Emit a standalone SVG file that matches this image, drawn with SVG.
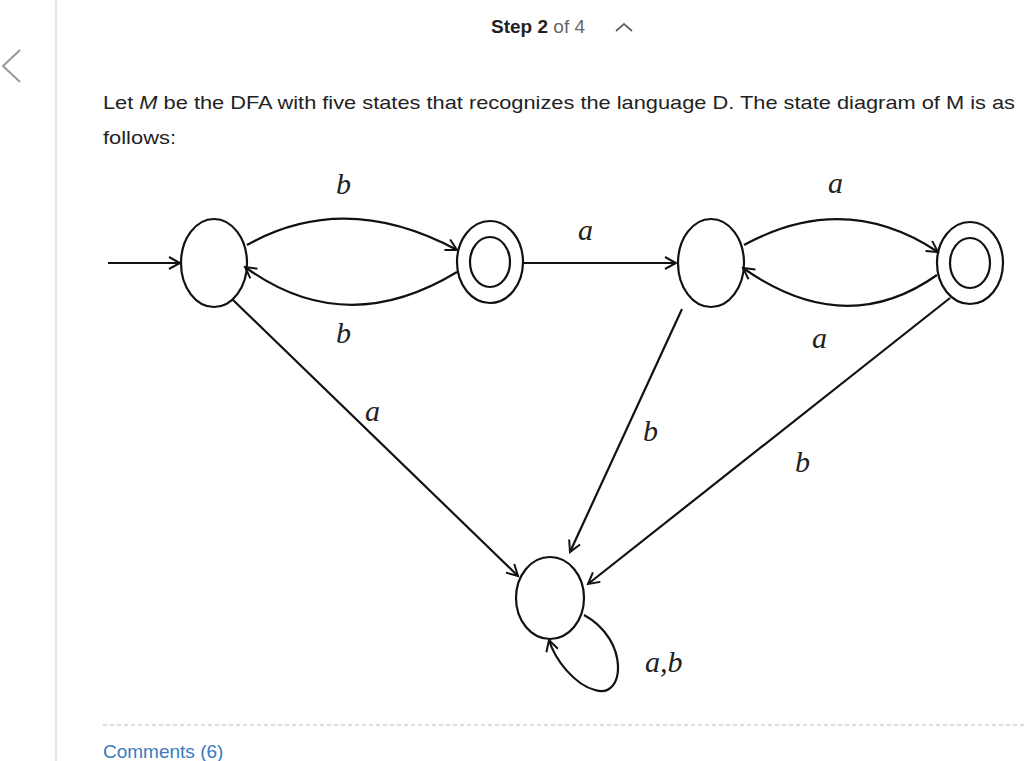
<svg xmlns="http://www.w3.org/2000/svg" width="1024" height="761" viewBox="0 0 1024 761">
<style>
.s{fill:none;stroke:#111;stroke-width:2.2}
.l{font-family:"Liberation Serif",serif;font-style:italic;font-size:30px;fill:#222}
.t{font-family:"Liberation Sans",Arial,sans-serif;font-size:19px;fill:#222}
</style>
<defs><marker id="a" markerWidth="14" markerHeight="14" refX="12" refY="7" orient="auto" markerUnits="userSpaceOnUse"><path d="M1,1 L12,7 L1,13" fill="none" stroke="#111" stroke-width="2"/></marker></defs>
<rect width="1024" height="761" fill="#fff"/>
<line x1="56" y1="0" x2="56" y2="761" stroke="#ddd" stroke-width="1.5"/>
<path d="M20,50 L3,66 L20,82" fill="none" stroke="#999" stroke-width="2"/>
<text x="491" y="33" class="t" font-size="20"><tspan font-weight="bold">Step 2</tspan><tspan style="fill:#666"> of 4</tspan></text>
<path d="M616,31 L624,24 L632,31" fill="none" stroke="#666" stroke-width="1.8"/>
<text x="103" y="109" class="t" textLength="912" lengthAdjust="spacingAndGlyphs">Let <tspan font-style="italic">M</tspan> be the DFA with five states that recognizes the language D. The state diagram of M is as</text>
<text x="103" y="144" class="t" textLength="73" lengthAdjust="spacingAndGlyphs">follows:</text>
<g id="q0"><ellipse cx="214" cy="263" rx="33" ry="44" class="s"/></g>
<g id="q1"><ellipse cx="490" cy="262" rx="33" ry="41" class="s"/><ellipse cx="490" cy="262" rx="20" ry="25" class="s"/></g>
<g id="q2"><ellipse cx="711" cy="263" rx="33" ry="44" class="s"/></g>
<g id="q3"><ellipse cx="970" cy="263" rx="33" ry="41" class="s"/><ellipse cx="970" cy="263" rx="20" ry="25" class="s"/></g>
<g id="q4"><ellipse cx="550" cy="598" rx="34" ry="41" class="s"/></g>
<g id="edges">
<line x1="108" y1="263" x2="180" y2="263" class="s" marker-end="url(#a)"/>
<path d="M247,245 Q345,190 457,250" class="s" marker-end="url(#a)"/>
<path d="M457,272 Q345,340 245,267" class="s" marker-end="url(#a)"/>
<line x1="523" y1="263" x2="676" y2="263" class="s" marker-end="url(#a)"/>
<path d="M744,245 Q845,190 938,252" class="s" marker-end="url(#a)"/>
<path d="M937,275 Q845,340 743,268" class="s" marker-end="url(#a)"/>
<line x1="232" y1="299" x2="518" y2="576" class="s" marker-end="url(#a)"/>
<line x1="682" y1="309" x2="570" y2="552" class="s" marker-end="url(#a)"/>
<line x1="950" y1="298" x2="588" y2="584" class="s" marker-end="url(#a)"/>
<path d="M584,615 C630,640 625,700 595,690 C575,685 555,660 549,640" class="s" marker-end="url(#a)"/>
</g>
<g id="labels">
<text x="336" y="194" class="l">b</text>
<text x="336" y="343" class="l">b</text>
<text x="578" y="240" class="l">a</text>
<text x="828" y="193" class="l">a</text>
<text x="812" y="348" class="l">a</text>
<text x="365" y="421" class="l">a</text>
<text x="643" y="441" class="l">b</text>
<text x="795" y="472" class="l">b</text>
<text x="645" y="672" class="l">a,b</text>
</g>
<line x1="103" y1="725" x2="1024" y2="725" stroke="#bbb" stroke-width="1" stroke-dasharray="4,3"/>
<text x="103" y="758" class="t" font-size="17" style="fill:#3a7abf">Comments (6)</text>
</svg>
